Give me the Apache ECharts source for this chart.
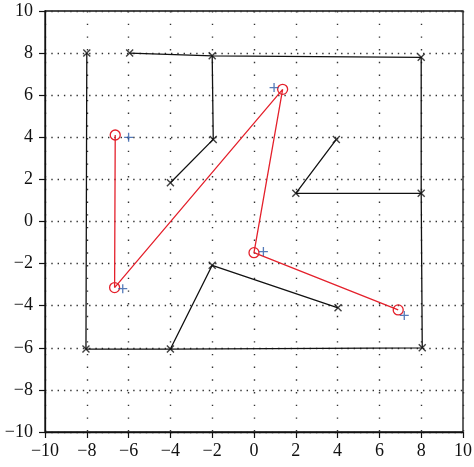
<!DOCTYPE html>
<html>
<head>
<meta charset="utf-8">
<script src="https://cdn.jsdelivr.net/npm/echarts@6/dist/echarts.min.js"></script>
<style>
  html, body { margin: 0; padding: 0; background: #fff; }
  #chart { width: 474px; height: 467px; }
</style>
</head>
<body>
<div id="chart"></div>
<script>
// axis ticks
var ticks = [-10, -8, -6, -4, -2, 0, 2, 4, 6, 8, 10]

// black network (paths between the x nodes)
var outerPath = [[-8, 8], [-8.04, -6.06], [-4, -6.06], [8.05, -6.0], [8, 1.34], [8, 7.8], [-2, 7.87], [-5.95, 8]]
var branchTopLeft = [[-2, 7.87], [-1.95, 3.9], [-4, 1.84]]
var branchRight = [[8, 1.34], [2, 1.34], [3.94, 3.9]]
var branchBottom = [[-4, -6.06], [-2, -2.08], [4.02, -4.1]]

// x nodes
var nodes = [[-8, 8], [-5.95, 8], [-2, 7.87], [8, 7.8], [-1.95, 3.9], [-4, 1.84],
  [3.94, 3.9], [2, 1.34], [8, 1.34], [-8.04, -6.06], [-4, -6.06], [-2, -2.08],
  [4.02, -4.1], [8.05, -6.0]]

// red route (circles) and blue + points
var route = [[-6.64, 4.11], [-6.67, -3.14], [1.37, 6.28], [0.0, -1.48], [6.9, -4.2]]
var targets = [[-6.0, 4.0], [-6.28, -3.19], [0.96, 6.36], [0.45, -1.43], [7.19, -4.46]]

var FONT = 'Liberation Serif'

function fmt (v) {
  return String(v).replace('-', '\u2212')
}

function blackLine (data) {
  return {
    type: 'line',
    data: data,
    symbol: 'none',
    lineStyle: { color: '#111', width: 1.3 },
    z: 2,
    silent: true
  }
}

var chart = echarts.init(document.getElementById('chart'))

var option = {
  animation: false,
  textStyle: { fontFamily: FONT },
  grid: {
    left: 45, right: 11, top: 11, bottom: 35,
    outerBoundsMode: 'none',
    containLabel: false,
    show: true,
    borderColor: '#111',
    borderWidth: 1.3,
    backgroundColor: 'transparent'
  },
  xAxis: {
    type: 'value',
    min: -10, max: 10, interval: 2,
    axisLine: { show: true, onZero: false, lineStyle: { color: '#111', width: 1.3 } },
    axisTick: { show: true, length: 6, lineStyle: { color: '#111', width: 1.2 } },
    axisLabel: { margin: 10, color: '#111', fontSize: 18, fontFamily: FONT, formatter: fmt, hideOverlap: false },
    splitLine: { show: true, lineStyle: { color: '#333', width: 1.4, type: [1.4, 11.3] } }
  },
  yAxis: {
    type: 'value',
    min: -10, max: 10, interval: 2,
    axisLine: { show: true, onZero: false, lineStyle: { color: '#111', width: 1.3 } },
    axisTick: { show: true, length: 6, lineStyle: { color: '#111', width: 1.2 } },
    axisLabel: { margin: 12, color: '#111', fontSize: 18, fontFamily: FONT, formatter: fmt, hideOverlap: false },
    splitLine: { show: true, lineStyle: { color: '#333', width: 1.4, type: [1.4, 4.9] } }
  },
  series: [
    blackLine(outerPath),
    blackLine(branchTopLeft),
    blackLine(branchRight),
    blackLine(branchBottom),
    {
      type: 'scatter',
      data: nodes,
      symbol: 'path://M0,0L10,10M10,0L0,10',
      symbolSize: 7,
      itemStyle: { color: 'transparent', borderColor: '#111', borderWidth: 1.4 },
      z: 3
    },
    {
      type: 'line',
      data: route,
      symbol: 'circle',
      symbolSize: 10,
      showSymbol: true,
      lineStyle: { color: '#e4202b', width: 1.3 },
      itemStyle: { color: 'transparent', borderColor: '#e4202b', borderWidth: 1.3 },
      z: 4
    },
    {
      type: 'scatter',
      data: targets,
      symbol: 'path://M5,0L5,10M0,5L10,5',
      symbolSize: 9,
      itemStyle: { color: 'transparent', borderColor: '#2c5aa8', borderWidth: 1.3 },
      z: 5
    }
  ]
}

chart.setOption(option)
</script>
</body>
</html>
